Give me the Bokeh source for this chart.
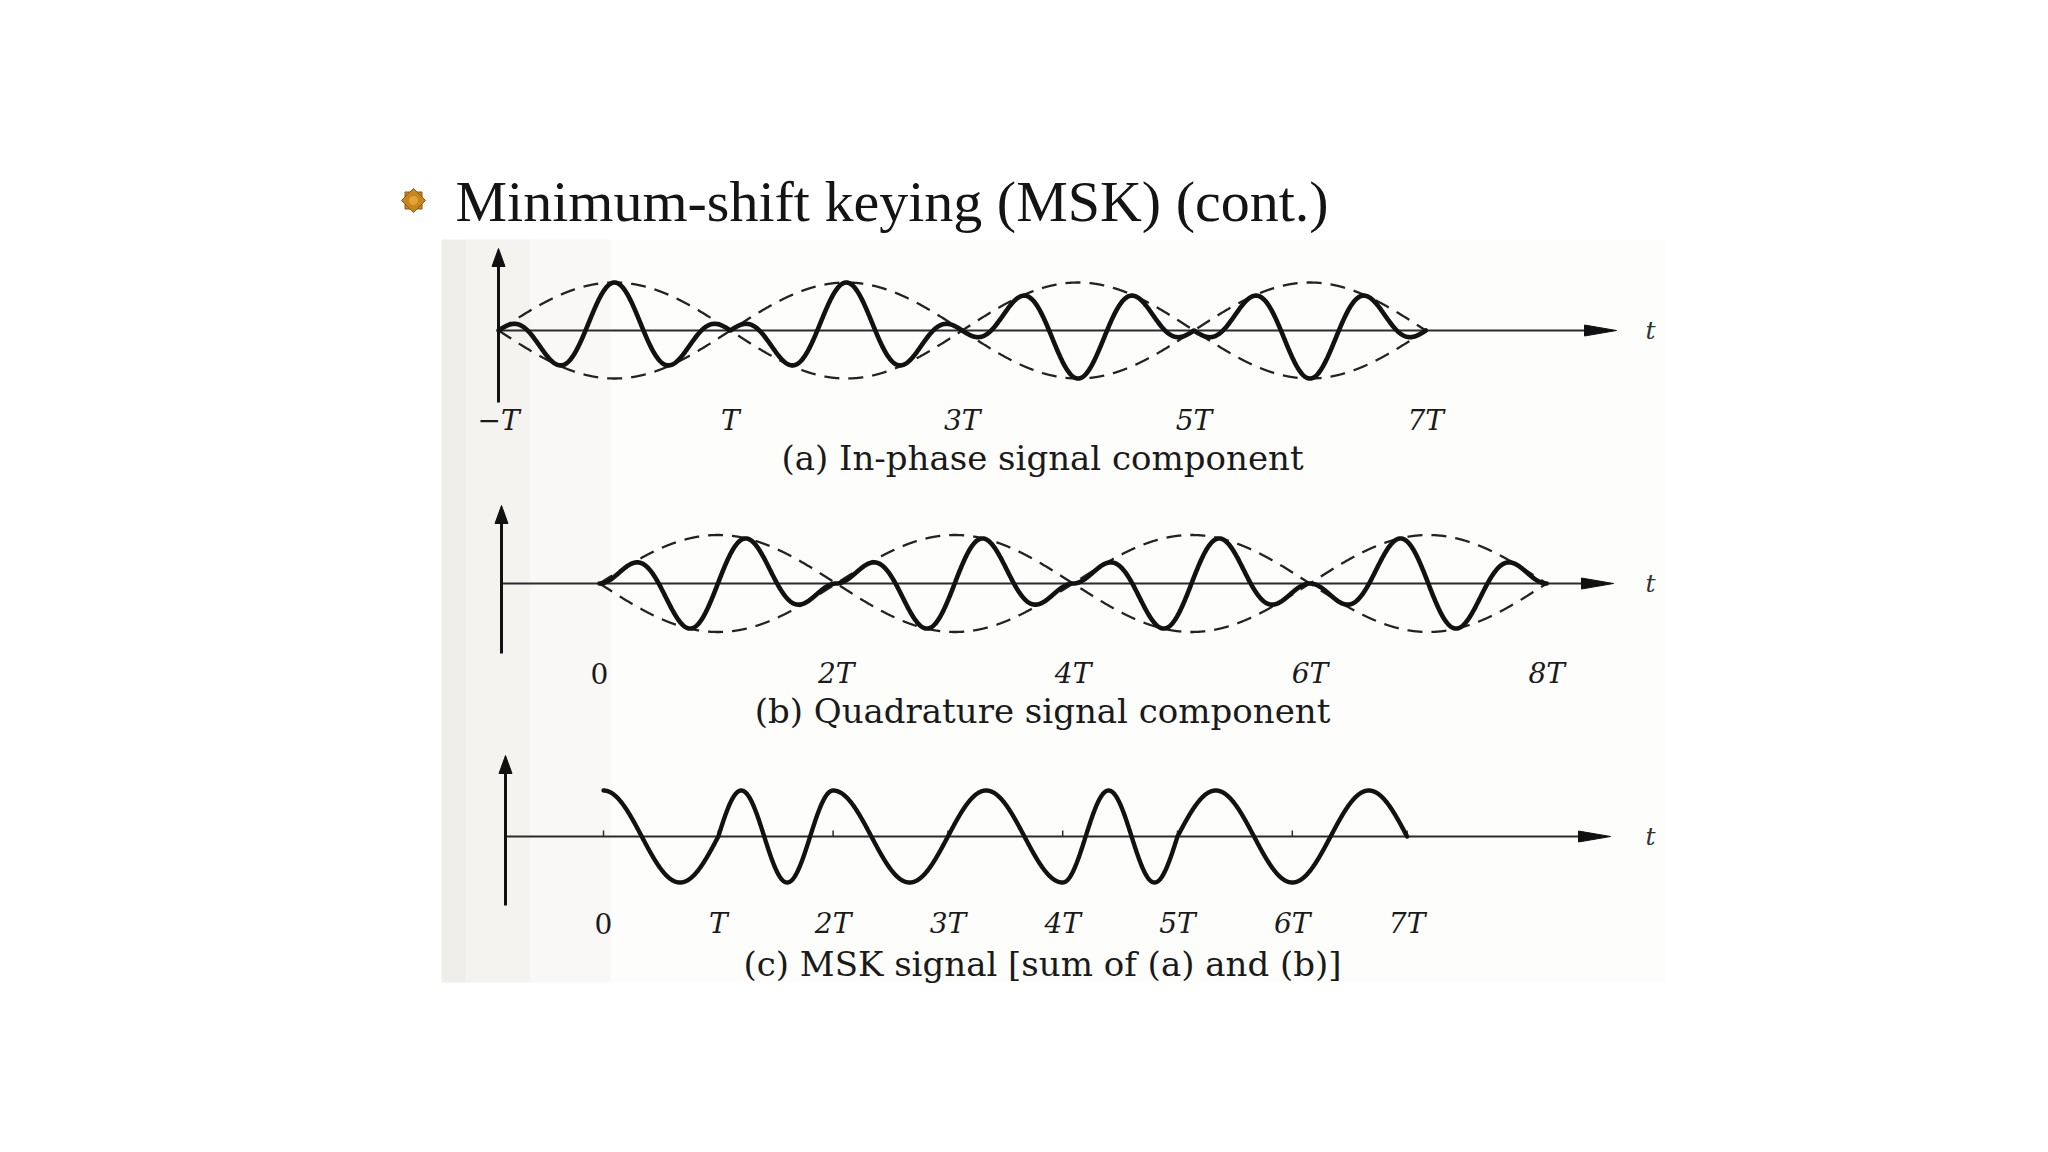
import numpy as np
from bokeh.plotting import figure
from bokeh.models import Range1d, ColumnDataSource
from bokeh.core.properties import value
from bokeh.embed import file_html
from bokeh.resources import INLINE

# ---------------- data ----------------
title_text = "Minimum-shift keying (MSK) (cont.)"

carrier_cycles_per_T = 1.0              # carrier frequency f_c = 1/T
i_lobe_centers = [0, 2, 4, 6]           # in-phase half-cosine lobes (units of T)
i_lobe_signs = [1, 1, -1, -1]
q_lobe_centers = [1, 3, 5, 7]           # quadrature half-sine lobes (units of T)
q_lobe_signs = [1, 1, 1, -1]
i_span = [-1, 7]
q_span = [0, 8]
msk_span = [0, 7]

ticks_a = [-1, 1, 3, 5, 7]
labels_a = ["\u2212T", "T", "3T", "5T", "7T"]
ticks_b = [0, 2, 4, 6, 8]
labels_b = ["0", "2T", "4T", "6T", "8T"]
ticks_c = [0, 1, 2, 3, 4, 5, 6, 7]
labels_c = ["0", "T", "2T", "3T", "4T", "5T", "6T", "7T"]

caption_a = "(a) In-phase signal component"
caption_b = "(b) Quadrature signal component"
caption_c = "(c) MSK signal [sum of (a) and (b)]"
axis_name = "t"

# ---------------- layout (page pixels) ----------------
OFF = 0
W, H = 2028, 1132

panels = {
    "a": dict(x0=614.0, sT=115.9, y0=330.0, sA=48.0, vx=498, vtop=248, vbot=402, tip=1616, lab=90, cap=457),
    "b": dict(x0=599.0, sT=118.4, y0=583.0, sA=48.5, vx=501, vtop=505, vbot=653, tip=1613, lab=90, cap=710),
    "c": dict(x0=603.0, sT=114.8, y0=836.0, sA=46.0, vx=505, vtop=755, vbot=905, tip=1610, lab=87, cap=963),
}

p = figure(width=W, height=H, output_backend="svg", toolbar_location=None,
           x_axis_type=None, y_axis_type=None, min_border=0,
           x_range=Range1d(OFF, OFF + W), y_range=Range1d(OFF + H, OFF))
p.outline_line_color = None
p.background_fill_color = "white"
p.border_fill_color = "white"

for name, g in panels.items():
    p.extra_x_ranges[name] = Range1d((OFF - g["x0"]) / g["sT"], (OFF + W - g["x0"]) / g["sT"])
    p.extra_y_ranges[name] = Range1d((g["y0"] - OFF - H) / g["sA"], (g["y0"] - OFF) / g["sA"])

# scanned-figure background
p.quad(left=441, right=1665, top=239, bottom=982, fill_color="#fdfdfc", line_color=None)
p.quad(left=441, right=466, top=239, bottom=982, fill_color="#efeeeb", line_color=None)
p.quad(left=466, right=530, top=239, bottom=982, fill_color="#f4f3f0", line_color=None)
p.quad(left=530, right=610, top=239, bottom=982, fill_color="#f9f8f6", line_color=None)

# title + bullet
p.scatter(x=[413], y=[200], marker="square", size=17, fill_color="#c9861c", line_color="#8c5a12", line_width=1)
p.scatter(x=[413], y=[200], marker="square", size=17, angle=np.pi / 4, fill_color="#c9861c", line_color="#8c5a12", line_width=1)
p.scatter(x=[413], y=[200], marker="circle", size=9, fill_color="#e3a43a", line_color=None)
p.text(x=[455], y=[201], text=[title_text], text_font=value("Liberation Serif"),
       text_font_size="58px", text_color="#141414", text_baseline="middle", text_align="left")

# ---------------- waveforms ----------------
fc = carrier_cycles_per_T


def i_component(t):
    k = np.clip(np.rint((t - i_lobe_centers[0]) / 2.0).astype(int), 0, len(i_lobe_signs) - 1)
    sgn = np.array(i_lobe_signs)[k]
    return sgn * np.abs(np.cos(np.pi * t / 2.0)) * np.cos(2 * np.pi * fc * t)


def q_component(t):
    k = np.clip(np.floor((t - (q_lobe_centers[0] - 1)) / 2.0).astype(int), 0, len(q_lobe_signs) - 1)
    sgn = np.array(q_lobe_signs)[k]
    return sgn * np.abs(np.sin(np.pi * t / 2.0)) * np.sin(2 * np.pi * fc * t)


ta = np.linspace(i_span[0], i_span[1], 2401)
tb = np.linspace(q_span[0], q_span[1], 2401)
tc = np.linspace(msk_span[0], msk_span[1], 2101)

env_a = np.abs(np.cos(np.pi * ta / 2.0))
env_b = np.abs(np.sin(np.pi * tb / 2.0))

dash = "15 9"
ink = "#121212"

# envelopes
p.line(ta, env_a, x_range_name="a", y_range_name="a", line_dash=dash, line_width=2.3, line_color="#222222")
p.line(ta, -env_a, x_range_name="a", y_range_name="a", line_dash=dash, line_width=2.3, line_color="#222222")
p.line(tb, env_b, x_range_name="b", y_range_name="b", line_dash=dash, line_width=2.3, line_color="#222222")
p.line(tb, -env_b, x_range_name="b", y_range_name="b", line_dash=dash, line_width=2.3, line_color="#222222")

# axes (horizontal + vertical with arrow heads), drawn in page pixels
axis_col = "#2b2b2b"
for name, g in panels.items():
    hl = 32
    p.segment(x0=[g["vx"]], y0=[g["y0"]], x1=[g["tip"] - hl + 4], y1=[g["y0"]], line_color=axis_col, line_width=2.2)
    p.patch(x=[g["tip"], g["tip"] - hl, g["tip"] - hl], y=[g["y0"], g["y0"] - 5.5, g["y0"] + 5.5],
            fill_color="#111111", line_color="#111111", line_width=1)
    vl = 18
    p.segment(x0=[g["vx"]], y0=[g["vbot"]], x1=[g["vx"]], y1=[g["vtop"] + vl - 3], line_color="#111111", line_width=3)
    p.patch(x=[g["vx"], g["vx"] - 6.5, g["vx"] + 6.5], y=[g["vtop"], g["vtop"] + vl, g["vtop"] + vl],
            fill_color="#111111", line_color="#111111", line_width=1)
    p.text(x=[1650], y=[g["y0"]], text=[axis_name], text_font=value("DejaVu Serif"), text_font_style="italic",
           text_font_size="25px", text_color="#333333", text_baseline="middle", text_align="center")

# small ticks on the MSK axis
gc = panels["c"]
p.segment(x0=ticks_c, y0=[0] * len(ticks_c), x1=ticks_c, y1=[6.0 / gc["sA"]] * len(ticks_c),
          x_range_name="c", y_range_name="c", line_color=axis_col, line_width=1.5)

# signals
p.line(ta, i_component(ta), x_range_name="a", y_range_name="a", line_width=4.6, line_color=ink,
       line_join="round", line_cap="round")
p.line(tb, q_component(tb), x_range_name="b", y_range_name="b", line_width=4.6, line_color=ink,
       line_join="round", line_cap="round")
p.line(tc, i_component(tc) + q_component(tc), x_range_name="c", y_range_name="c", line_width=4.4,
       line_color=ink, line_join="round", line_cap="round")

# tick labels
for name, ticks, labels in (("a", ticks_a, labels_a), ("b", ticks_b, labels_b), ("c", ticks_c, labels_c)):
    g = panels[name]
    src = ColumnDataSource(dict(
        x=ticks, y=[-g["lab"] / g["sA"]] * len(ticks), text=labels,
        style=["normal" if s == "0" else "italic" for s in labels]))
    p.text(x="x", y="y", text="text", source=src, x_range_name=name, y_range_name=name,
           text_font=value("DejaVu Serif"), text_font_style="style", text_font_size="28px",
           text_color="#1a1a1a", text_baseline="middle", text_align="center")

# captions
for name, cap in (("a", caption_a), ("b", caption_b), ("c", caption_c)):
    g = panels[name]
    p.text(x=[1042], y=[g["cap"]], text=[cap], text_font=value("DejaVu Serif"), text_font_size="34px",
           text_color="#1a1a1a", text_baseline="middle", text_align="center")

open("out.html", "w").write(file_html(p, INLINE))
